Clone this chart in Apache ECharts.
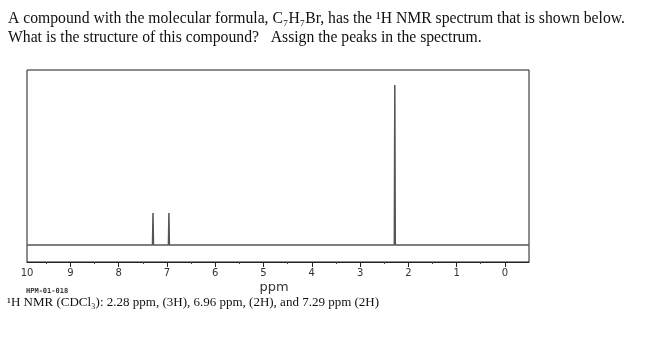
<!DOCTYPE html>
<html>
<head>
<meta charset="utf-8">
<script src="https://cdn.jsdelivr.net/npm/echarts@6/dist/echarts.min.js"></script>
<style>html,body{margin:0;padding:0;background:#fff}#c{width:653px;height:340px}</style>
</head>
<body>
<div id="c"></div>
<script>
// Peak data (ppm, relative height)
const peakShifts = [7.29, 6.96, 2.28];
const peakHeights = [32, 32, 160];
// Axis ticks
const majorTicks = [0, 1, 2, 3, 4, 5, 6, 7, 8, 9];
const minorTicks = [0.5, 1.5, 2.5, 3.5, 4.5, 5.5, 6.5, 7.5, 8.5, 9.5];
const tickLabels = ['0', '1', '2', '3', '4', '5', '6', '7', '8', '9', '10'];
const axisMin = -0.5, axisMax = 9.9;
// Text
const titleLine1 = 'A compound with the molecular formula, C\u2087H\u2087Br, has the \u00b9H NMR spectrum that is shown below.';
const titleLine2 = 'What is the structure of this compound?   Assign the peaks in the spectrum.';
const footText = '\u00b9H NMR (CDCl\u2083): 2.28 ppm, (3H), 6.96 ppm, (2H), and 7.29 ppm (2H)';
const codeText = 'HPM-01-018';
const unitText = 'ppm';

// Build spectrum trace from the peak list
const order = peakShifts.map((s, i) => i).sort((a, b) => peakShifts[b] - peakShifts[a]);
const spectrum = [[axisMax, 0]];
order.forEach(i => {
  const s = peakShifts[i];
  spectrum.push([s + 0.01, 0], [s, peakHeights[i]], [s - 0.01, 0]);
});
spectrum.push([axisMin, 0]);

const labelValues = majorTicks.concat([axisMax]);

const chart = echarts.init(document.getElementById('c'), null, {renderer: 'canvas'});
const serif = '"Liberation Serif", "Times New Roman", serif';
chart.setOption({
  animation: false,
  grid: {left: 27, right: 124, top: 70, bottom: 78, show: true, borderColor: '#1a1a1a', borderWidth: 1},
  xAxis: [{
    type: 'value', inverse: true, min: axisMin, max: axisMax, position: 'bottom',
    axisLine: {show: true, onZero: false, lineStyle: {color: '#222', width: 1}},
    axisTick: {show: true, inside: false, length: 5, lineStyle: {color: '#222'}, customValues: majorTicks},
    axisLabel: {show: true, margin: 6, fontSize: 10, color: '#333', fontFamily: '"DejaVu Sans", sans-serif',
      customValues: labelValues,
      formatter: v => tickLabels[v >= axisMax ? 10 : Math.round(v)]},
    splitLine: {show: false}
  }, {
    type: 'value', inverse: true, min: axisMin, max: axisMax, position: 'bottom',
    axisLine: {show: false, onZero: false},
    axisTick: {show: true, inside: false, length: 2, lineStyle: {color: '#444'}, customValues: minorTicks},
    axisLabel: {show: false},
    splitLine: {show: false}
  }],
  yAxis: {type: 'value', min: -17, max: 175, show: false, splitLine: {show: false}},
  series: [{
    type: 'line', data: spectrum, showSymbol: false, symbol: 'none',
    lineStyle: {color: '#555', width: 1.5}
  }],
  graphic: [
    {type: 'text', left: 8, top: 11, style: {text: titleLine1, font: '15.7px ' + serif, fill: '#111'}},
    {type: 'text', left: 8, top: 30, style: {text: titleLine2, font: '15.7px ' + serif, fill: '#111'}},
    {type: 'text', left: 26, top: 288, style: {text: codeText, font: 'bold 7px "DejaVu Sans Mono", monospace', fill: '#333'}},
    {type: 'text', x: 274, y: 288, style: {text: unitText, font: '13px "DejaVu Sans", sans-serif', fill: '#333', align: 'center', verticalAlign: 'middle'}},
    {type: 'text', left: 7, top: 296, style: {text: footText, font: '13px ' + serif, fill: '#111'}}
  ]
});
</script>
</body>
</html>
